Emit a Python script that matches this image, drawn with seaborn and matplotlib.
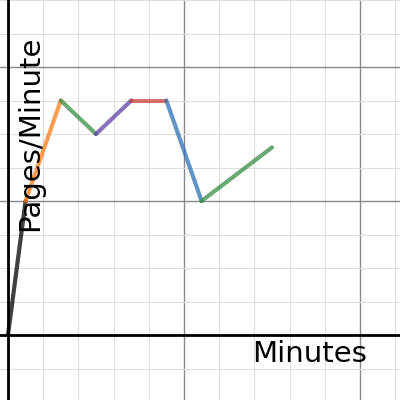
import matplotlib
matplotlib.use("Agg")
import matplotlib.pyplot as plt
import seaborn as sns
import numpy as np

xs = [0, 0.5, 1.5, 2.5, 3.5, 4.5, 5.5, 7.5]
ys = [0, 2.0, 3.5, 3.0, 3.5, 3.5, 2.0, 2.8]
seg_colors = ["#000000", "#fa7e19", "#388c46", "#6042a6", "#c74440", "#2d70b3", "#388c46"]

sns.set_style("white")
fig = plt.figure(figsize=(4, 4), dpi=100)
ax = fig.add_axes([0, 0, 1, 1])
xmin, xmax = -8/35.2, 392/35.2
ymin, ymax = -65/67, 335/67
ax.set_xlim(xmin, xmax)
ax.set_ylim(ymin, ymax)

for v in np.arange(0, 12, 1):
    ax.axvline(v, color="#888" if v % 5 == 0 else "#ddd", lw=1.0 if v % 5 == 0 else 0.8, zorder=0)
for v in np.arange(-0.5, 5.1, 0.5):
    ax.axhline(v, color="#888" if v % 2 == 0 else "#ddd", lw=1.0 if v % 2 == 0 else 0.8, zorder=0)
ax.axhline(0, color="black", lw=2, zorder=1)
ax.axvline(0, color="black", lw=2, zorder=1)

for i in range(len(seg_colors)):
    sns.lineplot(x=xs[i:i+2], y=ys[i:i+2], ax=ax, color=seg_colors[i], lw=3, alpha=0.75,
                 solid_capstyle="round", zorder=3)

ax.set_xticks([]); ax.set_yticks([])
for s in ax.spines.values():
    s.set_visible(False)
ax.text((310-8)/35.2, (335-354)/67, "Minutes", fontsize=21, ha="center", va="center", color="black")
ax.text((30-8)/35.2, (335-133)/67, "Pages/Minute", fontsize=21, rotation=90, ha="center", va="center", color="black")
fig.savefig("out.png", dpi=100)
